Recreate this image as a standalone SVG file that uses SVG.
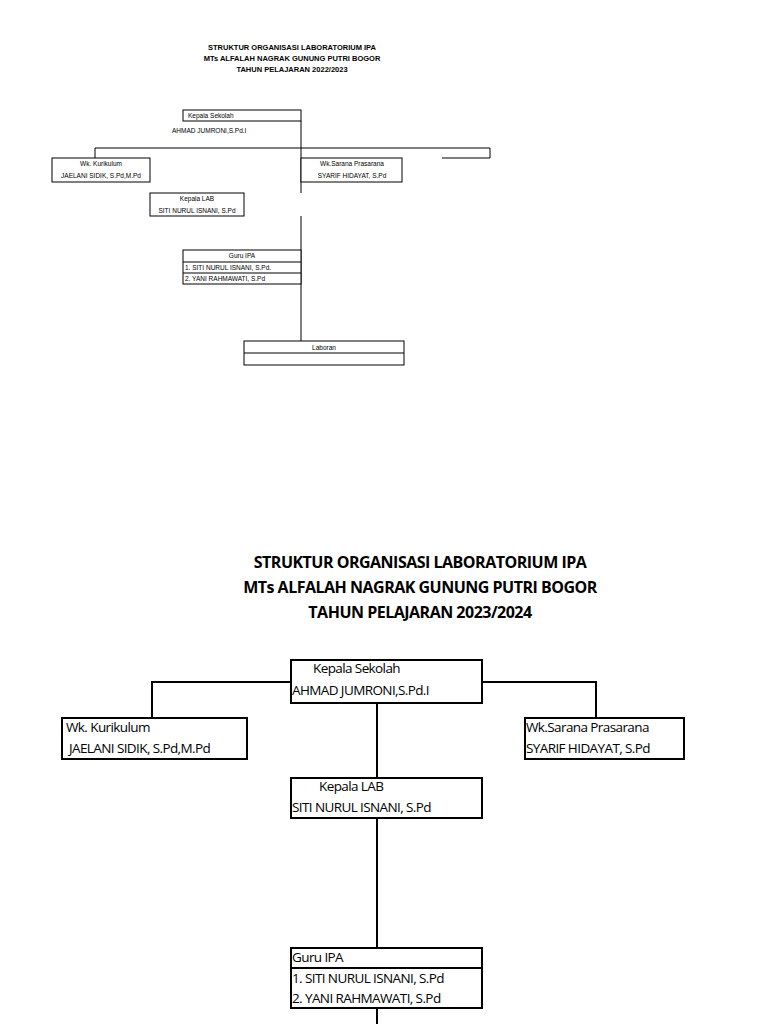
<svg xmlns="http://www.w3.org/2000/svg" width="768" height="1024" viewBox="0 0 768 1024">
<style>
.b{fill:#fff;stroke:#000;stroke-width:1}
.l{fill:none;stroke:#000;stroke-width:1}
.L{fill:none;stroke:#000;stroke-width:2}
.B{fill:#fff;stroke:#000;stroke-width:2}
.s{font-family:"Liberation Sans",sans-serif;font-size:6.5px}
.t{font-family:"Liberation Sans",sans-serif;font-size:7.5px;font-weight:bold;text-anchor:middle}
.m{font-family:"Open Sans","Liberation Sans",sans-serif;font-size:13.5px;letter-spacing:-0.6px}
.h{font-family:"Open Sans","Liberation Sans",sans-serif;font-size:16px;font-weight:bold;text-anchor:middle;letter-spacing:-0.5px}
</style>
<rect width="768" height="1024" fill="#fff"/>
<text class="t" x="292" y="50">STRUKTUR ORGANISASI LABORATORIUM IPA</text>
<text class="t" x="292" y="61">MTs ALFALAH NAGRAK GUNUNG PUTRI BOGOR</text>
<text class="t" x="292" y="72">TAHUN PELAJARAN 2022/2023</text>
<g id="connectors1">
<path class="l" d="M301 121V193M95 158V148H490V158H442M301 216V341"/>
</g>
<g id="ks1"><rect class="b" x="183" y="110" width="118" height="11"/><text class="s" x="188" y="118">Kepala Sekolah</text><text class="s" x="172" y="133">AHMAD JUMRONI,S.Pd.I</text></g>
<g id="wk1"><rect class="b" x="52" y="158" width="98" height="24"/><text class="s" x="101" y="166" text-anchor="middle">Wk. Kurikulum</text><text class="s" x="101" y="178" text-anchor="middle">JAELANI SIDIK, S.Pd,M.Pd</text></g>
<g id="ws1"><rect class="b" x="301" y="158" width="101" height="24"/><text class="s" x="352" y="166" text-anchor="middle">Wk.Sarana Prasarana</text><text class="s" x="352" y="178" text-anchor="middle">SYARIF HIDAYAT, S.Pd</text></g>
<g id="kl1"><rect class="b" x="150" y="193" width="94" height="23"/><text class="s" x="197" y="201" text-anchor="middle">Kepala LAB</text><text class="s" x="197" y="213" text-anchor="middle">SITI NURUL ISNANI, S.Pd</text></g>
<g id="gi1"><rect class="b" x="183" y="250" width="118" height="34"/><path class="l" d="M183 262H301M183 273H301"/><text class="s" x="242" y="258" text-anchor="middle">Guru IPA</text><text class="s" x="185" y="270">1.  SITI NURUL ISNANI, S.Pd.</text><text class="s" x="185" y="281">2. YANI RAHMAWATI, S.Pd</text></g>
<g id="lb1"><rect class="b" x="244" y="341" width="160" height="24"/><path class="l" d="M244 353H404"/><text class="s" x="324" y="350" text-anchor="middle">Laboran</text></g>

<text class="h" x="420" y="568">STRUKTUR ORGANISASI LABORATORIUM IPA</text>
<text class="h" x="420" y="593">MTs ALFALAH NAGRAK GUNUNG PUTRI BOGOR</text>
<text class="h" x="420" y="618">TAHUN PELAJARAN 2023/2024</text>
<g id="connectors2">
<path class="L" d="M152 718V682H291M482 682H596V718M377 703V778M377 818V948M377 1008V1024"/>
</g>
<g id="ks2"><rect class="B" x="291" y="660" width="191" height="43"/><text class="m" x="313" y="673">Kepala Sekolah</text><text class="m" x="292" y="695">AHMAD JUMRONI,S.Pd.I</text></g>
<g id="wk2"><rect class="B" x="62" y="718" width="185" height="41"/><text class="m" x="66" y="732">Wk. Kurikulum</text><text class="m" x="69" y="753">JAELANI SIDIK, S.Pd,M.Pd</text></g>
<g id="ws2"><rect class="B" x="525" y="718" width="159" height="41"/><text class="m" x="526" y="732">Wk.Sarana Prasarana</text><text class="m" x="526" y="753">SYARIF HIDAYAT, S.Pd</text></g>
<g id="kl2"><rect class="B" x="291" y="778" width="191" height="40"/><text class="m" x="319" y="791">Kepala LAB</text><text class="m" x="292" y="812">SITI NURUL ISNANI, S.Pd</text></g>
<g id="gi2"><rect class="B" x="291" y="948" width="191" height="60"/><path class="L" d="M291 968H482"/><text class="m" x="292" y="962">Guru IPA</text><text class="m" x="292" y="983">1.  SITI NURUL ISNANI, S.Pd</text><text class="m" x="292" y="1003">2. YANI RAHMAWATI, S.Pd</text></g>
</svg>
